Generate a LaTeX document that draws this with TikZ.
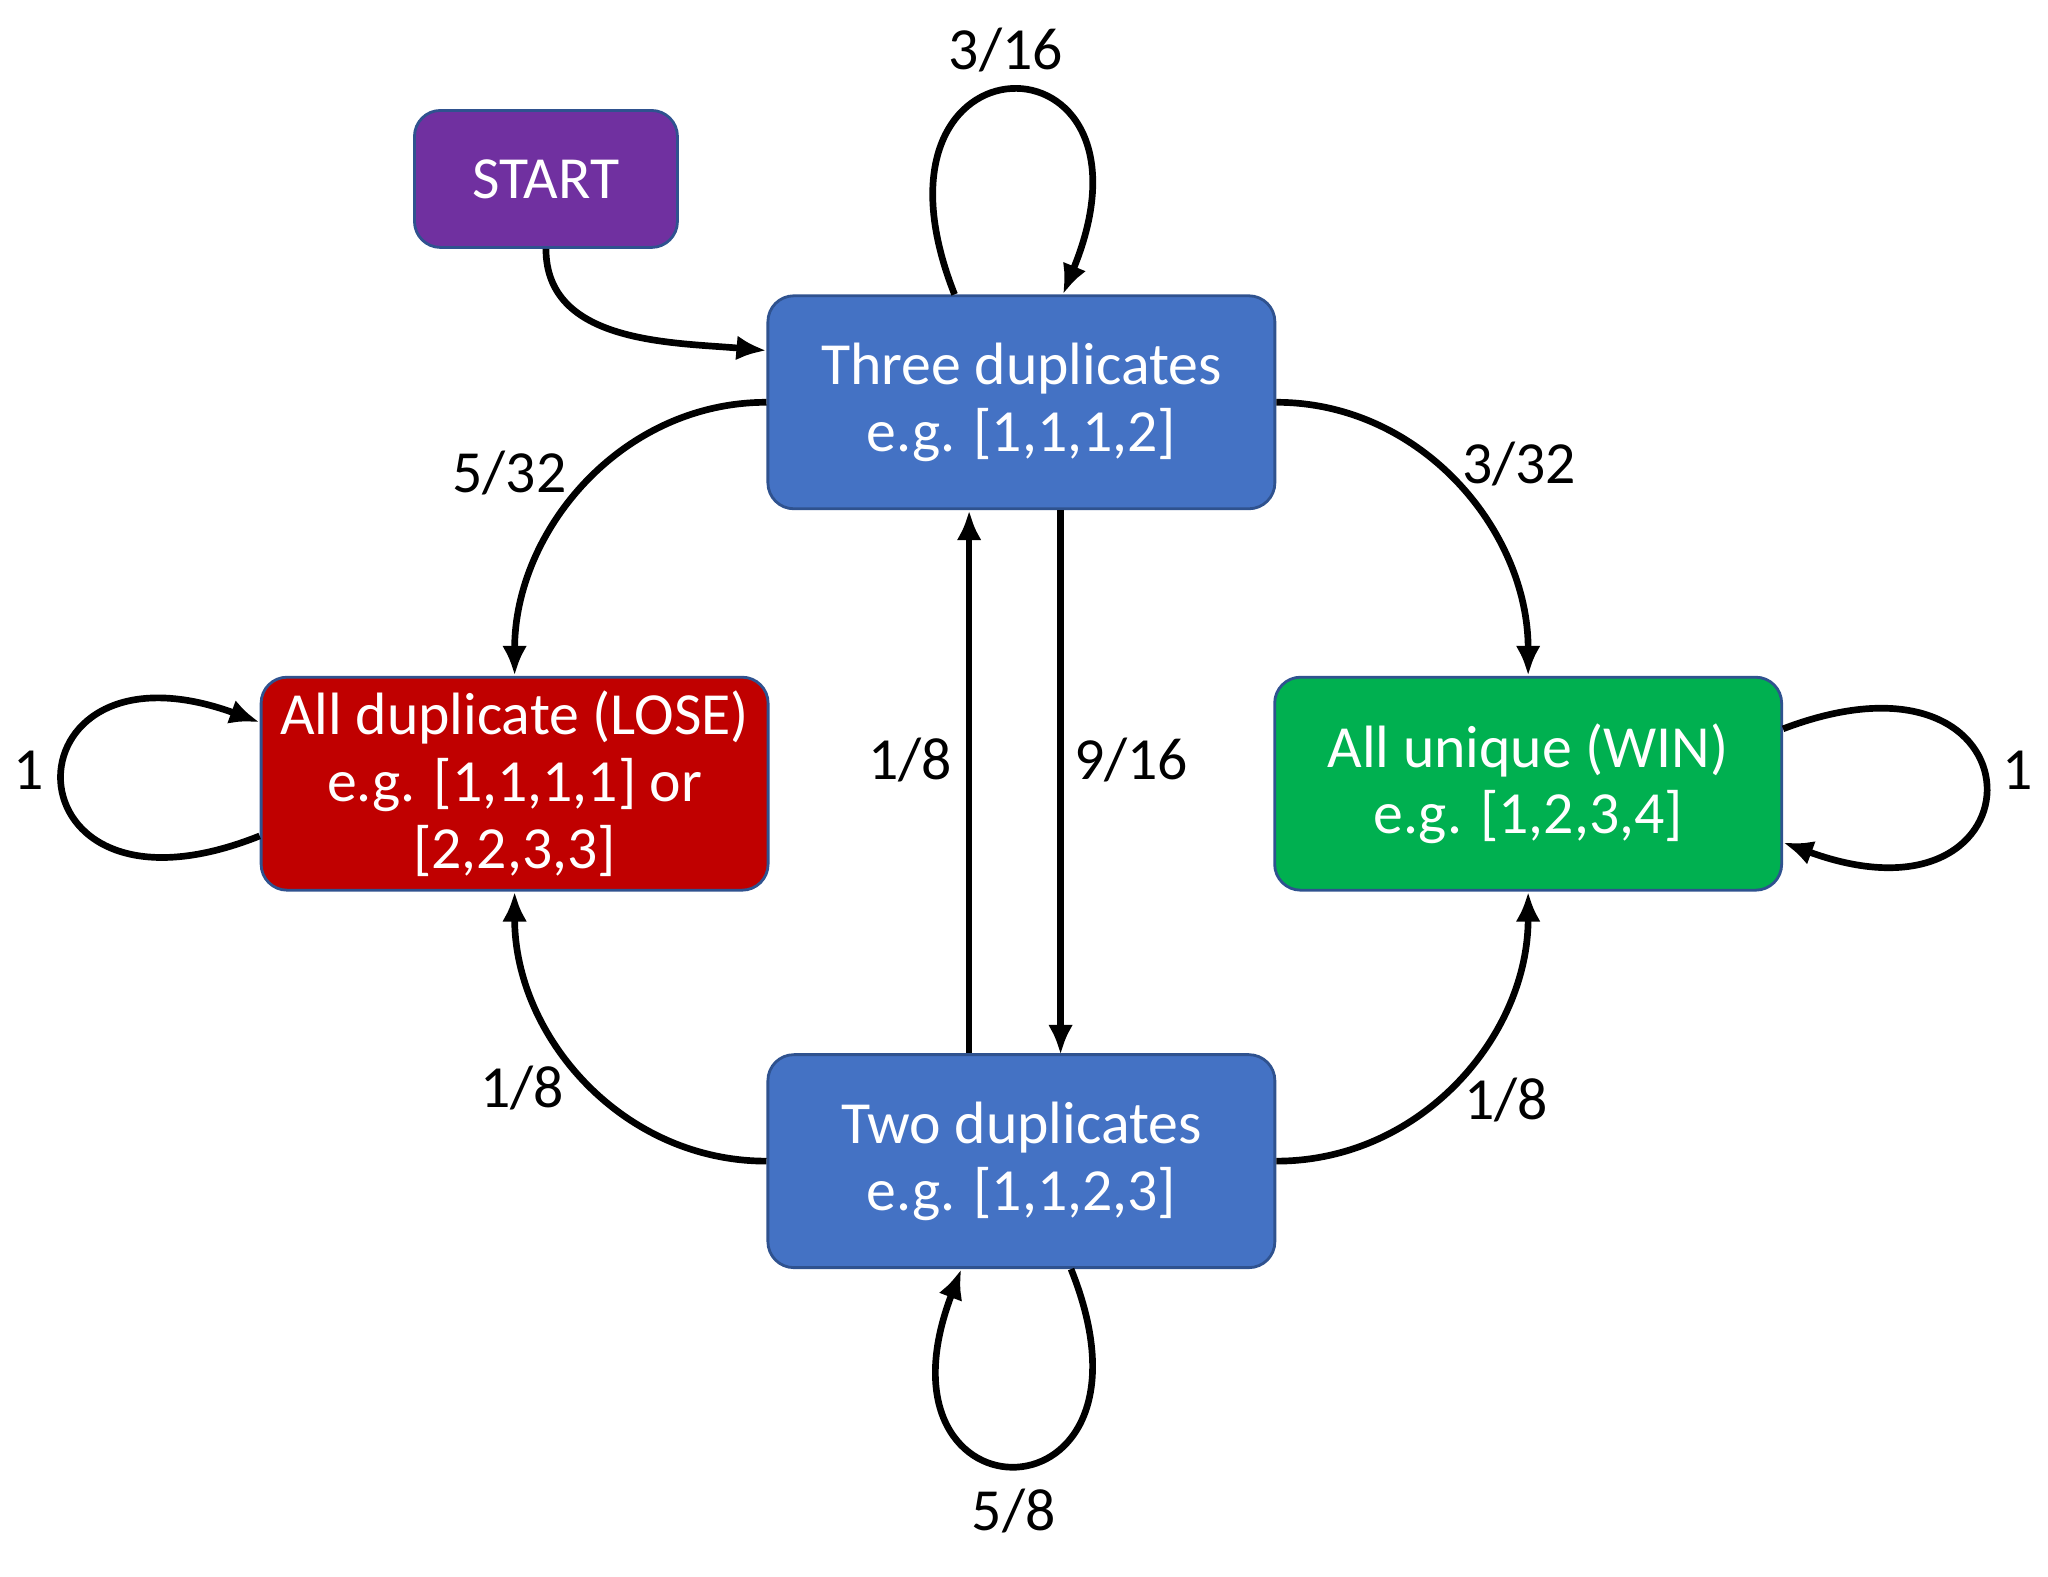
\documentclass[tikz,border=0pt]{standalone}
\usepackage{fontspec}
\setmainfont{Carlito}
\usetikzlibrary{arrows.meta}
\usetikzlibrary{calc}

\definecolor{startcol}{HTML}{7030A0}
\definecolor{midcol}{HTML}{4472C4}
\definecolor{losecol}{HTML}{C00000}
\definecolor{wincol}{HTML}{00B050}
\definecolor{edgecol}{HTML}{2F528F}

\begin{document}
\begin{tikzpicture}[x=0.01306cm, y=-0.01306cm, line width=1.9pt,
        state_style/.style={rectangle, rounded corners=0.26cm, draw=edgecol, line width=0.8pt,
            text=white, align=center, minimum width=5.07cm, minimum height=2.13cm,
            font=\fontsize{17}{19}\selectfont},
        start_style/.style={state_style, fill=startcol, minimum width=2.63cm, minimum height=1.37cm},
        edge_style/.style={draw=black, line width=1.9pt, -{Latex[length=0.3cm, width=0.25cm]}},
        label_style/.style={font=\fontsize{17}{19}\selectfont}]

        \useasboundingbox (0,0) rectangle (1568,1207);

        \node [start_style](start) at (418,137) {START};

        \node [state_style, fill=midcol](three) at (782,308) {Three duplicates\\e.g. [1,1,1,2]};

        \node [state_style, fill=losecol](lose) at (394,600) {All duplicate (LOSE)\\e.g. [1,1,1,1] or\\{}[2,2,3,3]};

        \node [state_style, fill=wincol](win) at (1170,600) {All unique (WIN)\\e.g. [1,2,3,4]};

        \node [state_style, fill=midcol](two) at (782,889) {Two duplicates\\e.g. [1,1,2,3]};

        \draw [edge_style] (start.south) to[out=-90, in=175] ($(three.north west)+(0,43)$);

        \draw [edge_style] ($(three.north west)+(144,0)$) .. controls +(-82,-207) and +(85,-207) .. ($(three.north west)+(227,0)$);

        \draw [edge_style] (three.west) to[out=180, in=90] (lose.north);

        \draw [edge_style] (three.east) to[out=0, in=90] (win.north);

        \draw [edge_style] (two.west) to[out=180, in=-90] (lose.south);

        \draw [edge_style] (two.east) to[out=0, in=-90] (win.south);

        \draw [edge_style] ($(two.north)+(-40,0)$) -- ($(three.south)+(-40,0)$);

        \draw [edge_style] ($(three.south)+(30,0)$) -- ($(two.south)+(30,-164)$);

        \draw [edge_style] ($(two.south)+(38,0)$) .. controls +(80,199) and +(-76,199) .. ($(two.south)+(-46,0)$);

        \draw [edge_style] ($(lose.west)+(0,40)$) .. controls +(-200,80) and +(-200,-73) .. ($(lose.west)+(0,-47)$);

        \draw [edge_style] ($(win.east)+(0,-42)$) .. controls +(205,-78) and +(205,75) .. ($(win.east)+(0,45)$);

        % transition labels
        \node [label_style](l1) at (770,38) {3/16};
        \node [label_style](l2) at (390,362) {5/32};
        \node [label_style](l3) at (1163,355) {3/32};
        \node [label_style](l4) at (697,582) {1/8};
        \node [label_style](l5) at (866,582) {9/16};
        \node [label_style](l6) at (400,833) {1/8};
        \node [label_style](l7) at (1153,842) {1/8};
        \node [label_style](l8) at (776,1157) {5/8};
        \node [label_style](l9) at (22,590) {1};
        \node [label_style](l10) at (1545,590) {1};

\end{tikzpicture}
\end{document}
